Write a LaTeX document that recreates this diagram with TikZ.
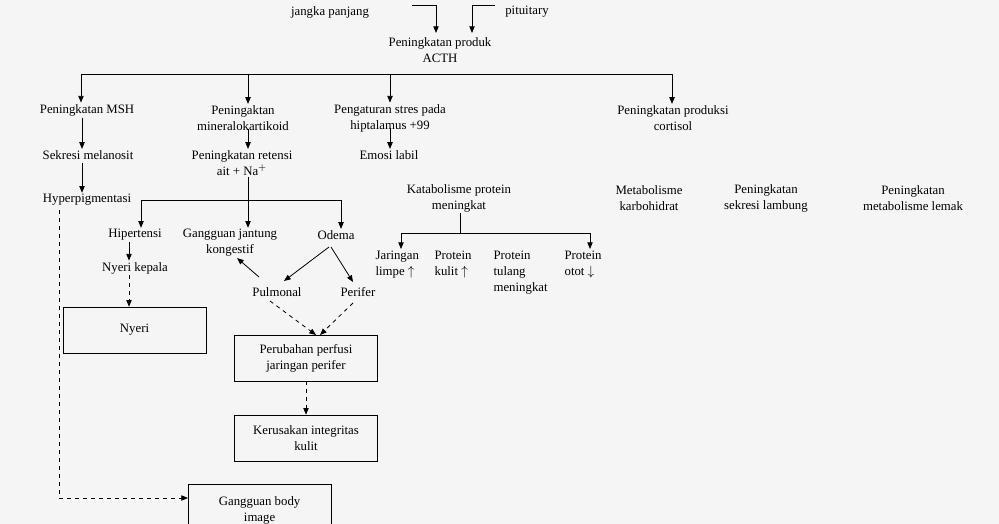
\documentclass[tikz,border=0pt]{standalone}
\usepackage{fontspec}
\setmainfont{Liberation Serif}
\usetikzlibrary{arrows.meta}
\begin{document}
\begin{tikzpicture}[x=0.75pt,y=-0.75pt,
  t/.style={font=\fontsize{9.6}{12}\selectfont,align=center,inner sep=1pt},
  tl/.style={font=\fontsize{9.6}{12}\selectfont,align=left,inner sep=1pt,anchor=north west},
  bx/.style={draw,font=\fontsize{9.6}{12}\selectfont,align=center,minimum width=107pt,minimum height=34.5pt,inner sep=1pt},
  a/.style={-{Triangle[length=5pt,width=4pt]},line width=0.6pt},
  d/.style={a,dashed}]
\useasboundingbox[fill=white!96!black] (0,0) rectangle (999,524);
\node[t] (jp) at (330,12) {jangka panjang};
\node[t] (pit) at (527,12) {pituitary};
\node[t] (acth) at (440,50) {Peningkatan produk\\ACTH};
\coordinate (c1) at (412,5); \coordinate (c2) at (495,5);
\draw[a] (c1) -| (436,33);
\draw[a] (c2) -| (472,33);
\node[t] (msh) at (87,110) {Peningkatan MSH};
\node[t] (min) at (243,118) {Peningaktan\\mineralokartikoid};
\node[t] (str) at (390,118) {Pengaturan stres pada\\hiptalamus +99};
\node[t] (cor) at (673,118) {Peningkatan produksi\\cortisol};
\coordinate (h) at (80,74);
\draw[line width=0.6pt] (81,74) -- (672,74);
\draw[a] (81,74) -- (msh.north-|81,0);
\draw[a] (248,74) -- (min.north-|248,0);
\draw[a] (390,74) -- (str.north-|390,0);
\draw[a] (672,74) -- (cor.north-|672,0);
\node[t] (sek) at (88,155) {Sekresi melanosit};
\node[t] (ret) at (242,163) {Peningkatan retensi\\ait + Na$^{+}$};
\node[t] (emo) at (389,155) {Emosi labil};
\draw[a] (82,118) -- (sek.north-|82,0);
\draw[a] (248,129) -- (ret.north-|248,0);
\draw[a] (390,128) -- (emo.north-|390,0);
\node[t] (hyp) at (87,200) {Hyperpigmentasi};
\draw[a] (82,163) -- (hyp.north-|82,0);
\node[t] (hip) at (135,235) {Hipertensi};
\node[t] (gjk) at (230,243) {Gangguan jantung\\kongestif};
\node[t] (ode) at (336,235) {Odema};
\draw[line width=0.6pt] (141,220) |- (341,200) -- (341,220);
\draw[a] (141,200) -- (hip.north-|141,0);
\draw[a] (341,200) -- (ode.north-|341,0);
\draw[a] (ret.south-|248,0) -- (gjk.north-|248,0);
\node[t] (nk) at (135,268) {Nyeri kepala};
\draw[a] (129,242) -- (nk.north-|129,0);
\node[bx] (ny) at (134.5,330) {Nyeri};
\draw[d] (nk.south-|129,0) -- (ny.north-|129,0);
\node[t] (pul) at (277,292) {Pulmonal};
\node[t] (per) at (358,292) {Perifer};
\draw[a] (329,247) -- (284,281);
\draw[a] (331,247) -- (353,282);
\draw[a] (259,277) -- (237,258);
\node[bx] (pp) at (306,358) {Perubahan perfusi\\jaringan perifer};
\draw[d] (270,301) -- (316,335);
\draw[d] (353,303) -- (320,335);
\node[bx] (kik) at (306,438) {Kerusakan integritas\\kulit};
\draw[d] (pp) -- (kik);
\node[bx,minimum height=40pt,anchor=north west] (gbi) at (188,484) {Gangguan body\\image};
\draw[d] (59,210) |- (gbi.west|-0,498);
\node[t] (kat) at (459,198) {Katabolisme protein\\meningkat};
\draw[line width=0.6pt] (460,213) -- (460,233);
\draw[line width=0.6pt] (401,233) -- (590,233);
\draw[a] (401,233) -- (401,249);
\draw[a] (590,233) -- (590,249);
\node[tl] (jl) at (374,249) {Jaringan\\limpe $\uparrow$};
\node[tl] (pk) at (433,249) {Protein\\kulit $\uparrow$};
\node[tl] (pt) at (492,249) {Protein\\tulang\\meningkat};
\node[tl] (po) at (563,249) {Protein\\otot $\downarrow$};
\node[t] (mk) at (649,198) {Metabolisme\\karbohidrat};
\node[t] (sl) at (766,198) {Peningkatan\\sekresi lambung};
\node[t] (ml) at (913,198) {Peningkatan\\metabolisme lemak};
\end{tikzpicture}
\end{document}
